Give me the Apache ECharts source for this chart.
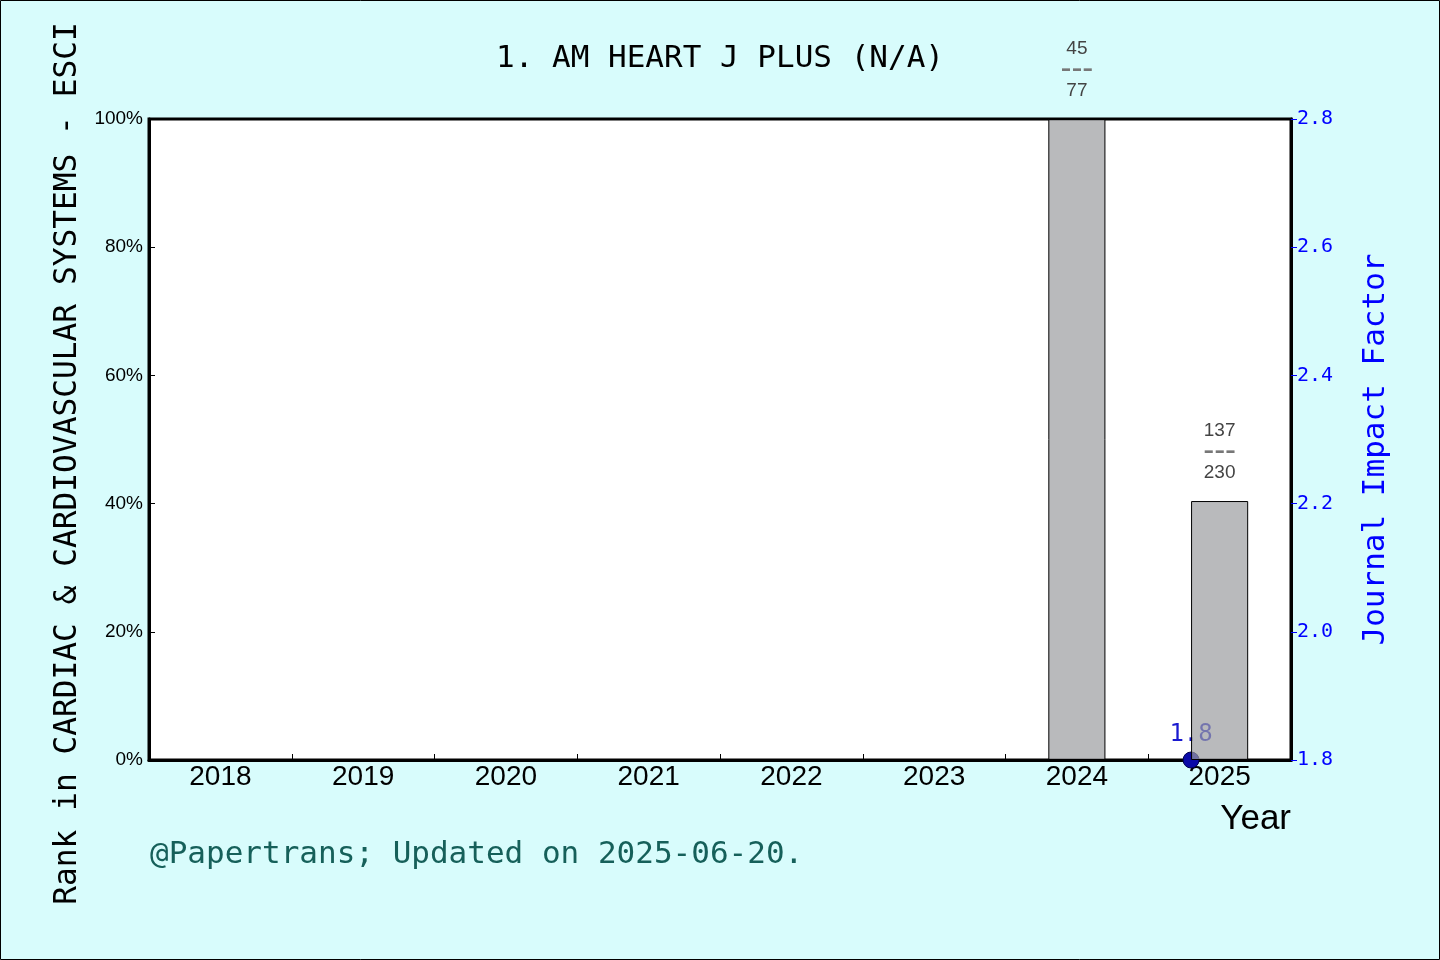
<!DOCTYPE html>
<html>
<head>
<meta charset="utf-8">
<script src="https://cdn.jsdelivr.net/npm/echarts@6/dist/echarts.min.js"></script>
<style>
html, body { margin: 0; padding: 0; background: #d8fcfc; }
#chart { width: 1440px; height: 960px; }
</style>
</head>
<body>
<div id="chart"></div>
<script>
// data
var years = ['2018', '2019', '2020', '2021', '2022', '2023', '2024', '2025'];
var rankPct = [null, null, null, null, null, null, 100, 40.4];
var rankNum = [null, null, null, null, null, null, 45, 137];
var rankTotal = [null, null, null, null, null, null, 77, 230];
var jif = [null, null, null, null, null, null, null, 1.8];
var pctTicks = [0, 20, 40, 60, 80, 100];
var jifTicks = [1.8, 2.0, 2.2, 2.4, 2.6, 2.8];

var mono = '"DejaVu Sans Mono", "Liberation Mono", monospace';
var sans = '"Liberation Sans", Arial, sans-serif';
var ifShift = -0.2; // impact factor points sit at the bar's left edge

var ifPoints = [];
jif.forEach(function (v, i) {
	if (v !== null) ifPoints.push([i + ifShift, v]);
});

var myChart = echarts.init(document.getElementById('chart'));
var option = {
	backgroundColor: '#d8fcfc',
	animation: false,
	title: {
		text: '1. AM HEART J PLUS (N/A)',
		left: 'center',
		top: 38,
		textStyle: { fontFamily: mono, fontSize: 31, fontWeight: 'normal', color: '#000' }
	},
	grid: {
		left: 149, right: 149, top: 119, bottom: 200,
		outerBoundsMode: 'none',
		containLabel: false,
		show: true, backgroundColor: '#fff', borderColor: '#000', borderWidth: 3
	},
	xAxis: [{
		type: 'category',
		data: years,
		name: 'Year',
		nameLocation: 'end',
		nameGap: 0,
		nameTextStyle: { fontFamily: sans, fontSize: 35, color: '#000', align: 'right', verticalAlign: 'top', padding: [42, 0, 0, 0] },
		axisLine: { show: true, onZero: false, lineStyle: { color: '#000', width: 3 } },
		axisTick: { show: true, inside: true, length: 6, lineStyle: { color: '#000' } },
		axisLabel: { fontFamily: sans, fontSize: 28, color: '#000', margin: 3 }
	}, {
		type: 'value',
		min: -0.5, max: years.length - 0.5,
		show: false
	}],
	yAxis: [{
		type: 'value',
		min: 0, max: 100, interval: 20,
		position: 'left',
		name: 'Rank in CARDIAC & CARDIOVASCULAR SYSTEMS - ESCI',
		nameLocation: 'middle',
		nameGap: 66,
		nameTextStyle: { fontFamily: mono, fontSize: 31.2, color: '#000', padding: [0, 48, 0, 0] },
		splitLine: { show: false },
		axisLine: { show: true, onZero: false, lineStyle: { color: '#000', width: 3 } },
		axisTick: { show: true, inside: true, length: 6, lineStyle: { color: '#000' } },
		axisLabel: {
			fontFamily: '"Liberation Sans Narrow", ' + sans, fontSize: 19, color: '#000', margin: 6,
			formatter: function (v) { return pctTicks.indexOf(v) >= 0 ? v + '%' : ''; }
		}
	}, {
		type: 'value',
		min: jifTicks[0], max: jifTicks[jifTicks.length - 1], interval: 0.2,
		position: 'right',
		name: 'Journal Impact Factor',
		nameLocation: 'middle',
		nameGap: 69,
		nameRotate: 90,
		nameTextStyle: { fontFamily: mono, fontSize: 31, color: '#0000ff', padding: [0, 20, 0, 0] },
		splitLine: { show: false },
		axisLine: { show: true, onZero: false, lineStyle: { color: '#000', width: 3 } },
		axisTick: { show: true, length: 6, lineStyle: { color: '#0000ff' } },
		axisLabel: {
			fontFamily: mono, fontSize: 20, color: '#0000ff', margin: 6,
			formatter: function (v) { return v.toFixed(1); }
		}
	}],
	graphic: [{
		type: 'rect',
		z: 100,
		silent: true,
		shape: { x: 0.5, y: 0.5, width: 1439, height: 959 },
		style: { fill: 'none', stroke: '#000', lineWidth: 1 }
	}, {
		type: 'text',
		left: 150, top: 839,
		style: { text: '@Papertrans; Updated on 2025-06-20.', fontFamily: mono, fontSize: 31, fill: '#16605a' }
	}],
	series: [{
		type: 'line',
		xAxisIndex: 1,
		yAxisIndex: 1,
		z: 1,
		data: ifPoints,
		symbol: 'circle',
		symbolSize: 16,
		itemStyle: { color: '#0a0aa8', borderColor: '#000050', borderWidth: 1 },
		lineStyle: { color: '#0a0aa8', width: 2 },
		label: {
			show: true, position: 'top', distance: 5,
			fontFamily: mono, fontSize: 24, color: '#1a1ad0',
			formatter: function (p) { return p.value[1].toFixed(1); }
		}
	}, {
		type: 'bar',
		z: 5,
		data: rankPct,
		barWidth: '40%',
		itemStyle: { color: 'rgba(155,156,159,0.7)', borderColor: '#000', borderWidth: 1 },
		label: {
			show: true, position: 'top', distance: 18,
			fontFamily: sans, fontSize: 19, color: '#444', lineHeight: 21,
			formatter: function (p) {
				var i = p.dataIndex;
				return rankNum[i] + '\n{d|---}\n' + rankTotal[i];
			},
			rich: {
				d: { fontFamily: sans, fontSize: 33, color: '#777', lineHeight: 21 }
			}
		}
	}]
};
myChart.setOption(option);
</script>
</body>
</html>
